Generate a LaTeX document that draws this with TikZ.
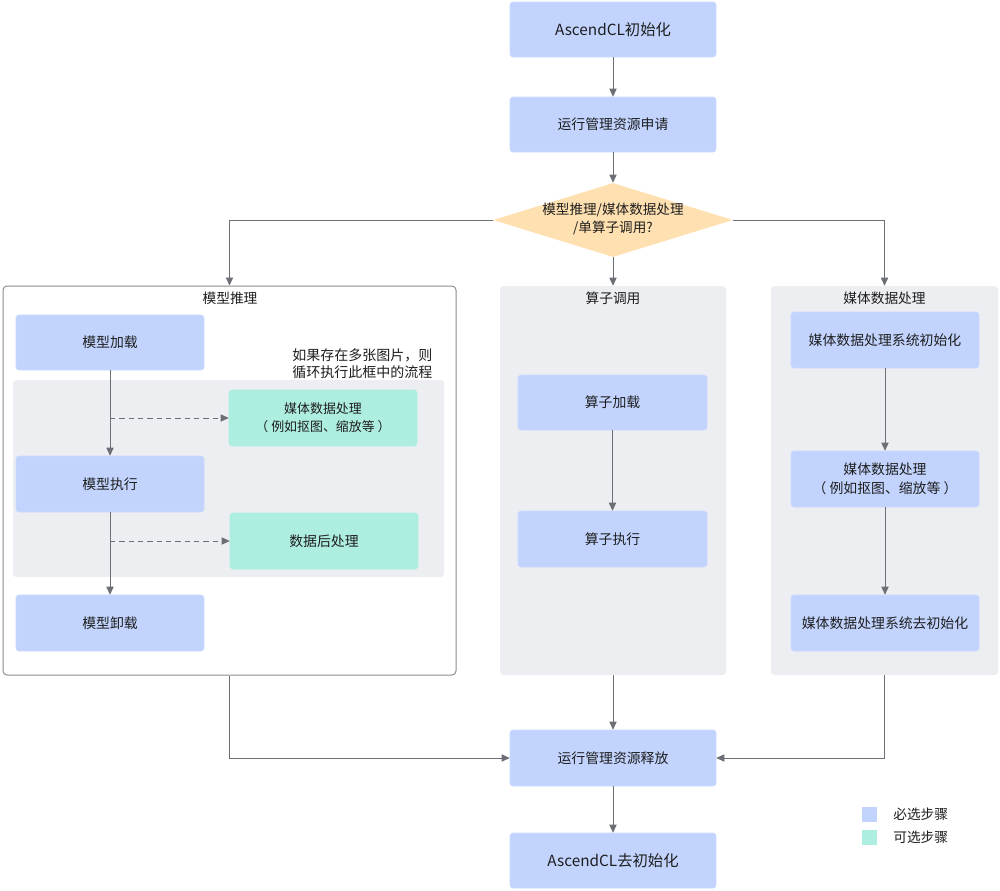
\documentclass[tikz,border=0pt]{standalone}
\usepackage{fontspec}
\setmainfont{Noto Sans CJK SC}
\usetikzlibrary{arrows.meta,shapes.geometric}
\definecolor{req}{HTML}{C2D4FE}
\definecolor{opt}{HTML}{AEEEE0}
\definecolor{dec}{HTML}{FFE0B0}
\definecolor{grp}{HTML}{EDEEF2}
\definecolor{ln}{HTML}{6C6F76}
\definecolor{frm}{HTML}{8C8C8C}
\definecolor{txt}{HTML}{1E1E1E}
\tikzset{
  bw/.style={minimum width=#1*0.75pt},
  bh/.style={minimum height=#1*0.75pt},
  stepbox/.style={fill=req, draw=req!85!white, line width=0.4pt, rounded corners=2.2pt, inner sep=0pt, text=txt, font=\fontsize{10.4pt}{13pt}\selectfont, align=center},
  optbox/.style={stepbox, fill=opt, draw=opt},
  grpbox/.style={fill=grp, draw=none, rounded corners=2.5pt, inner sep=0pt},
  frame/.style={fill=white, draw=frm, line width=0.75pt, rounded corners=3pt, inner sep=0pt},
  title/.style={text=txt, font=\fontsize{10.3pt}{12pt}\selectfont, inner sep=0pt},
  conn/.style={draw=ln, line width=0.7pt, -{Triangle[width=5.4pt,length=6pt]}},
  dconn/.style={conn, dash pattern=on 4pt off 3pt},
}
\begin{document}
\begin{tikzpicture}[x=0.75pt,y=-0.75pt]
\useasboundingbox (0,0) rectangle (1000,890);
% top
\node[stepbox, bw=206, bh=55, font=\fontsize{11.5pt}{13pt}\selectfont] (init) at (613,29.5) {AscendCL初始化};
\node[stepbox, bw=206, bh=55] (rq) at (613,124.5) {运行管理资源申请};
\node[diamond, fill=dec, draw=none, inner sep=0pt, minimum width=180pt, minimum height=55.5pt] (dia) at (613,220) {};
\node[title, align=center, font=\fontsize{10.2pt}{14pt}\selectfont] (diat) at (613,219) {模型推理/媒体数据处理\\/单算子调用?};
% containers
\node[frame, bw=453, bh=389] (lf) at (229.5,480.5) {};
\node[title] (lft) at (230,298) {模型推理};
\node[grpbox, bw=431, bh=197] (loop) at (228.5,478.5) {};
\node[grpbox, bw=226, bh=389] (md) at (613,480.5) {};
\node[title] (mdt) at (613,298) {算子调用};
\node[grpbox, bw=227, bh=389] (rt) at (884.5,480.5) {};
\node[title] (rtt) at (884.5,298) {媒体数据处理};
% left content
\node[stepbox, bw=188, bh=55] (load) at (110,342.5) {模型加载};
\node[stepbox, bw=188, bh=56] (exec) at (110,484) {模型执行};
\node[stepbox, bw=188, bh=56] (unld) at (110,623) {模型卸载};
\node[optbox, bw=188, bh=56, font=\fontsize{9.7pt}{13.5pt}\selectfont] (g1) at (323,418) {媒体数据处理\\（ 例如抠图、缩放等 ）};
\node[optbox, bw=188, bh=56] (g2) at (324,541) {数据后处理};
\node[title, align=left, anchor=west, font=\fontsize{10.5pt}{12.8pt}\selectfont] (note) at (292,363.5) {如果存在多张图片，则\\循环执行此框中的流程};
% middle content
\node[stepbox, bw=189, bh=55] (szl) at (612.5,402.5) {算子加载};
\node[stepbox, bw=189, bh=56] (sze) at (612.5,539) {算子执行};
% right content
\node[stepbox, bw=188, bh=56] (r1) at (885,340) {媒体数据处理系统初始化};
\node[stepbox, bw=188, bh=56, font=\fontsize{10.4pt}{14pt}\selectfont] (r2) at (885,479) {媒体数据处理\\（ 例如抠图、缩放等 ）};
\node[stepbox, bw=188, bh=56] (r3) at (885,623) {媒体数据处理系统去初始化};
% bottom
\node[stepbox, bw=206, bh=56] (rel) at (613,758) {运行管理资源释放};
\node[stepbox, bw=206, bh=55, font=\fontsize{11.5pt}{13pt}\selectfont] (fin) at (613,860.5) {AscendCL去初始化};
% legend
\node[fill=req, minimum size=11.25pt, inner sep=0pt] (lg1) at (869.5,814.5) {};
\node[title, anchor=west] (lg1t) at (893,814.5) {必选步骤};
\node[fill=opt, minimum size=11.25pt, inner sep=0pt] (lg2) at (869.5,837.5) {};
\node[title, anchor=west] (lg2t) at (893,837.5) {可选步骤};
% connectors
\draw[conn] (init.south) -- (rq.north);
\draw[conn] (rq.south) -- (dia.north);
\draw[conn] (dia.south) -- (md.north);
\draw[conn] (dia.west) -| (lf.north);
\draw[conn] (dia.east) -| (rt.north);
\draw[conn] (load.south) -- (exec.north);
\draw[conn] (exec.south) -- (unld.north);
\draw[dconn] (load.south |- g1.west) -- (g1.west);
\draw[dconn] (exec.south |- g2.west) -- (g2.west);
\draw[conn] (szl.south) -- (sze.north);
\draw[conn] (r1.south) -- (r2.north);
\draw[conn] (r2.south) -- (r3.north);
\draw[conn] (md.south) -- (rel.north);
\draw[conn] (lf.south) |- (rel.west);
\draw[conn] (rt.south) |- (rel.east);
\draw[conn] (rel.south) -- (fin.north);
\end{tikzpicture}
\end{document}
